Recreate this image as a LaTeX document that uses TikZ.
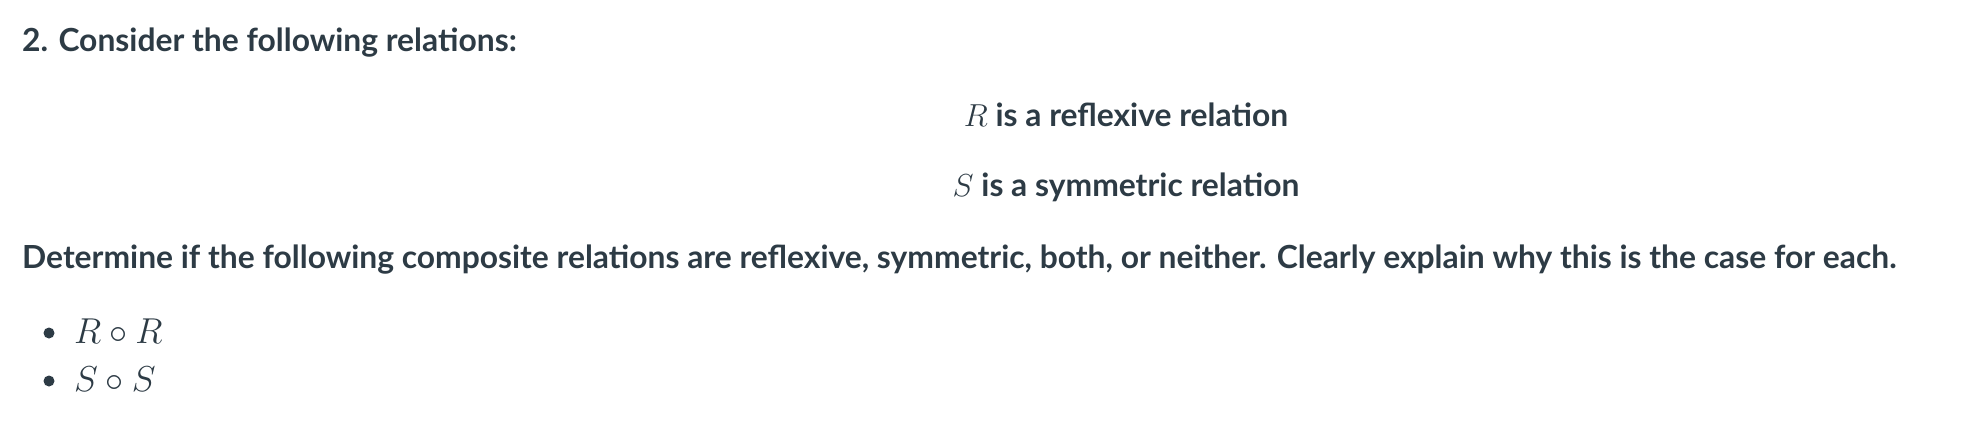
\documentclass[tikz,border=0pt]{standalone}
\usepackage{fix-cm}
\usepackage{fontspec}
\setmainfont{Lato}[UprightFont=* Bold]
\usepackage{xcolor}
\definecolor{txt}{HTML}{2D3B45}
\begin{document}
\begin{tikzpicture}[x=1pt,y=-1pt,
  every node/.style={inner sep=0pt,text=txt,font=\fontsize{31.8}{36}\selectfont},
  mathit/.style={font=\fontsize{36}{40}\selectfont}]
\useasboundingbox[fill=white] (0,0) rectangle (1980,426);
\node[anchor=west] (h) at (22,43) {2. Consider the following relations:};
\node (r) at (1126,115) {$R$ is a reflexive relation};
\node (s) at (1126,187) {$S$ is a symmetric relation};
\node[anchor=west] (d) at (22,260) {Determine if the following composite relations are reflexive, symmetric, both, or neither. Clearly explain why this is the case for each.};
\fill[txt] (49,333) circle (5.5);
\fill[txt] (49,381) circle (5.5);
\node[anchor=west,mathit] (b1) at (74,331) {$R\circ R$};
\node[anchor=west,mathit] (b2) at (74,379) {$S\circ S$};
\end{tikzpicture}
\end{document}
